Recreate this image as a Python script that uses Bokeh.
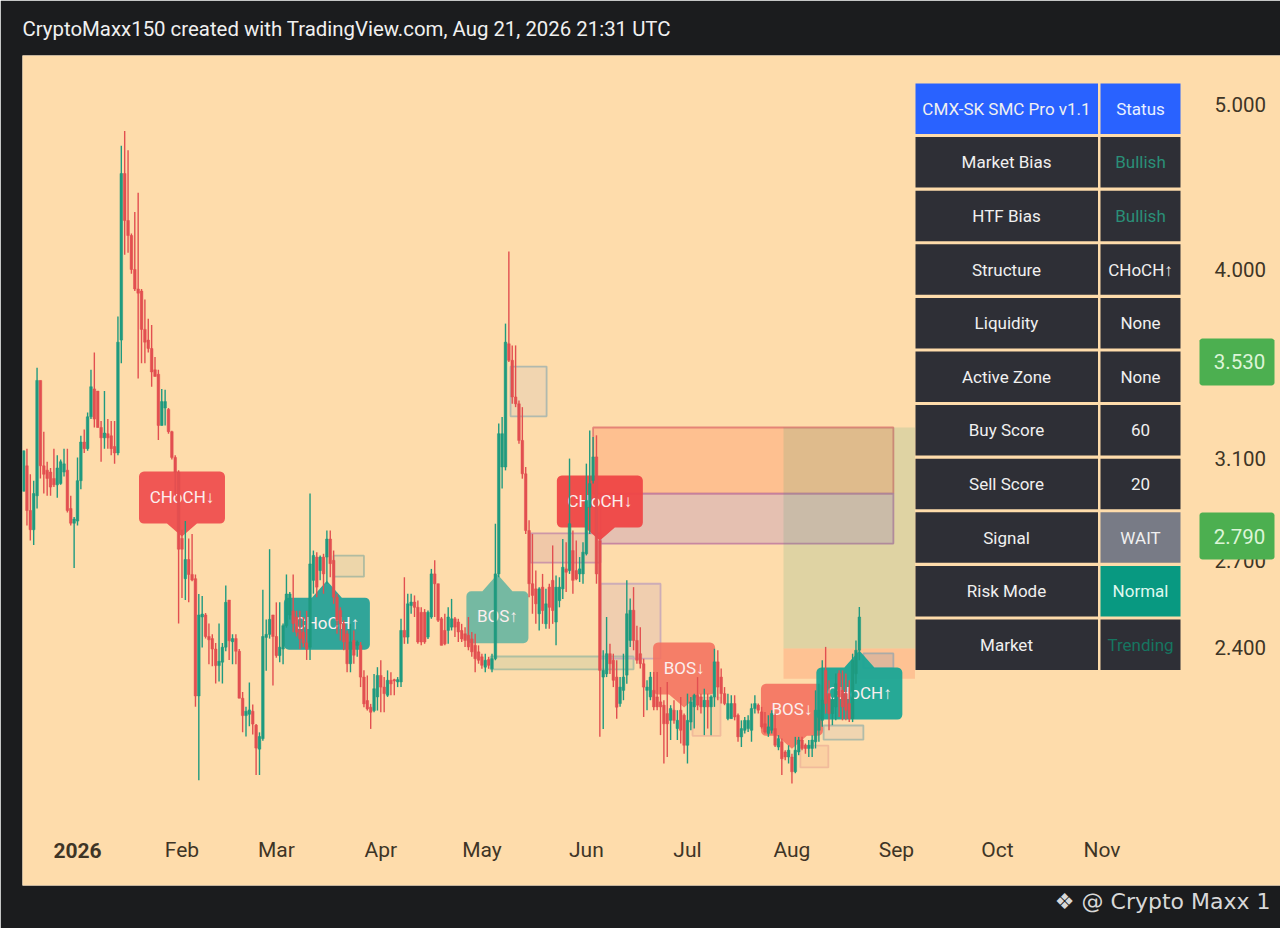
import math
from bokeh.plotting import figure
from bokeh.models import Range1d, FixedTicker, PrintfTickFormatter, Label, Title
from bokeh.core.properties import value
from bokeh.embed import file_html
from bokeh.resources import INLINE

# ---------- data ----------
first_day = -16   # days from 1 Jan 2026 of the first candle
opens = [2.964,3.068,2.888,2.814,2.946,3.443,3.068,3.050,3.042,3.016,
 2.990,2.995,3.042,3.050,2.896,2.839,2.847,3.007,3.168,3.140,
 3.278,3.404,3.394,3.231,3.186,3.204,3.195,3.149,3.122,3.636,
 4.554,4.274,4.188,4.000,3.896,3.885,3.689,3.636,3.595,3.493,
 3.472,3.240,3.317,3.311,3.213,3.103,3.042,2.781,2.634,2.703,
 2.649,2.634,2.248,2.501,2.508,2.436,2.429,2.395,2.342,2.353,
 2.401,2.559,2.419,2.429,2.388,2.241,2.189,2.193,2.202,2.161,
 2.092,2.122,2.433,2.443,2.508,2.436,2.374,2.395,2.472,2.508,
 2.522,2.501,2.457,2.450,2.415,2.401,2.628,2.712,2.663,2.712,
 2.712,2.779,2.700,2.569,2.523,2.478,2.445,2.348,2.423,2.407,
 2.407,2.306,2.234,2.214,2.204,2.245,2.311,2.275,2.250,2.296,
 2.298,2.291,2.291,2.456,2.434,2.540,2.552,2.534,2.517,2.517,
 2.434,2.501,2.651,2.616,2.495,2.456,2.456,2.467,2.495,2.484,
 2.456,2.445,2.440,2.428,2.407,2.386,2.370,2.337,2.361,2.332,
 2.364,2.651,3.063,3.063,3.618,3.538,3.367,3.336,3.175,3.035,
 2.811,2.616,2.598,2.512,2.604,2.478,2.604,2.628,2.484,2.557,
 2.598,2.669,2.663,2.736,2.663,2.651,2.651,2.724,2.901,3.008,
 3.105,2.773,2.306,2.316,2.380,2.359,2.306,2.225,2.265,2.312,
 2.423,2.524,2.423,2.380,2.348,2.265,2.245,2.265,2.245,2.230,
 2.220,2.195,2.175,2.205,2.151,2.205,2.190,2.103,2.170,2.215,
 2.250,2.245,2.215,2.235,2.215,2.245,2.354,2.306,2.255,2.180,
 2.180,2.225,2.190,2.127,2.146,2.151,2.146,2.210,2.220,2.200,
 2.165,2.137,2.146,2.151,2.098,2.113,2.084,2.070,2.070,2.029,
 2.084,2.118,2.103,2.094,2.094,2.113,2.146,2.175,2.327,2.255,
 2.195,2.215,2.317,2.265,2.255,2.225,2.180,2.317,2.391]
closes = [3.131,2.888,2.814,2.955,3.443,3.068,3.033,3.016,2.981,2.990,
 3.059,3.085,3.076,2.888,2.839,2.855,3.007,3.168,3.140,3.278,
 3.414,3.268,3.231,3.186,3.207,3.186,3.140,3.122,3.626,4.554,
 4.274,4.188,4.000,3.896,3.874,3.689,3.626,3.595,3.483,3.462,
 3.240,3.346,3.346,3.213,3.103,3.042,2.741,2.741,2.703,2.649,
 2.629,2.248,2.508,2.511,2.436,2.425,2.395,2.342,2.356,2.401,
 2.551,2.422,2.429,2.388,2.241,2.189,2.202,2.206,2.164,2.095,
 2.128,2.436,2.443,2.493,2.436,2.374,2.401,2.472,2.580,2.580,
 2.479,2.450,2.429,2.415,2.395,2.687,2.718,2.604,2.712,2.651,
 2.779,2.688,2.569,2.490,2.478,2.418,2.348,2.418,2.375,2.418,
 2.306,2.224,2.209,2.199,2.270,2.311,2.275,2.255,2.296,2.285,
 2.294,2.298,2.456,2.434,2.546,2.552,2.534,2.418,2.418,2.418,
 2.517,2.651,2.616,2.490,2.407,2.412,2.501,2.495,2.467,2.451,
 2.428,2.423,2.402,2.386,2.364,2.359,2.343,2.359,2.343,2.364,
 2.651,3.204,3.204,3.626,3.538,3.367,3.336,3.175,3.035,2.811,
 2.616,2.575,2.546,2.598,2.523,2.546,2.534,2.523,2.604,2.604,
 2.675,2.657,2.837,2.628,2.633,2.669,2.730,2.928,2.995,3.105,
 2.651,2.327,2.327,2.380,2.348,2.296,2.214,2.275,2.306,2.512,
 2.524,2.423,2.359,2.348,2.275,2.275,2.306,2.215,2.215,2.215,
 2.165,2.165,2.210,2.175,2.175,2.146,2.103,2.175,2.230,2.250,
 2.220,2.215,2.235,2.215,2.245,2.354,2.275,2.255,2.225,2.225,
 2.225,2.185,2.127,2.151,2.175,2.175,2.210,2.225,2.205,2.156,
 2.141,2.156,2.195,2.103,2.122,2.065,2.070,2.089,2.029,2.089,
 2.118,2.094,2.094,2.103,2.118,2.205,2.205,2.235,2.225,2.195,
 2.235,2.285,2.245,2.215,2.205,2.180,2.359,2.391,2.501]
highs = [3.131,3.140,3.033,3.007,3.503,3.443,3.213,3.085,3.059,3.140,
 3.112,3.094,3.140,3.140,2.946,2.863,3.103,3.195,3.222,3.297,
 3.493,3.575,3.394,3.259,3.394,3.268,3.259,3.259,3.754,4.728,
 4.823,4.700,4.200,4.323,4.437,3.896,3.841,3.743,3.711,3.554,
 3.493,3.404,3.400,3.317,3.217,3.112,3.050,2.814,2.847,2.781,
 2.798,2.649,2.580,2.573,2.515,2.479,2.443,2.415,2.479,2.415,
 2.610,2.559,2.443,2.443,2.395,2.260,2.215,2.289,2.222,2.164,
 2.140,2.595,2.493,2.741,2.508,2.551,2.551,2.479,2.649,2.587,
 2.649,2.522,2.522,2.501,2.522,2.955,2.736,2.730,2.718,2.724,
 2.811,2.811,2.736,2.581,2.534,2.490,2.456,2.478,2.456,2.423,
 2.418,2.327,2.311,2.224,2.316,2.337,2.359,2.306,2.327,2.321,
 2.301,2.306,2.495,2.639,2.581,2.581,2.575,2.557,2.534,2.528,
 2.523,2.669,2.700,2.616,2.501,2.512,2.534,2.563,2.501,2.495,
 2.478,2.467,2.501,2.451,2.445,2.407,2.380,2.380,2.370,2.380,
 2.837,3.248,3.277,3.718,4.099,3.610,3.610,3.351,3.321,3.063,
 2.850,2.798,2.663,2.604,2.651,2.598,2.616,2.755,2.645,2.639,
 2.779,2.767,3.098,2.811,2.773,2.712,2.767,3.077,3.218,3.190,
 3.197,2.773,2.391,2.501,2.412,2.380,2.359,2.306,2.380,2.628,
 2.564,2.604,2.472,2.467,2.364,2.296,2.322,2.322,2.322,2.275,
 2.235,2.291,2.220,2.235,2.205,2.245,2.195,2.255,2.245,2.255,
 2.306,2.255,2.270,2.255,2.250,2.396,2.391,2.333,2.275,2.255,
 2.250,2.250,2.195,2.175,2.185,2.190,2.225,2.250,2.225,2.215,
 2.200,2.190,2.205,2.195,2.132,2.122,2.089,2.103,2.079,2.127,
 2.127,2.127,2.108,2.118,2.132,2.265,2.285,2.359,2.402,2.296,
 2.245,2.317,2.327,2.327,2.317,2.296,2.380,2.423,2.535]
lows = [2.964,2.830,2.773,2.757,2.896,3.016,2.955,2.946,2.946,2.981,
 2.938,2.990,3.024,2.880,2.830,2.672,2.830,2.972,3.122,3.131,
 3.268,3.231,3.231,3.085,3.140,3.140,3.112,3.076,3.112,3.524,
 4.080,4.092,3.977,3.885,3.452,3.524,3.524,3.575,3.414,3.462,
 3.177,3.240,3.240,3.204,3.094,2.946,2.479,2.566,2.559,2.551,
 2.625,2.215,2.006,2.400,2.429,2.346,2.340,2.286,2.292,2.286,
 2.388,2.360,2.346,2.346,2.241,2.140,2.128,2.158,2.134,2.020,
 2.020,2.116,2.326,2.429,2.280,2.367,2.353,2.346,2.465,2.493,
 2.450,2.436,2.395,2.401,2.360,2.360,2.581,2.569,2.628,2.581,
 2.616,2.639,2.546,2.445,2.423,2.391,2.321,2.321,2.348,2.370,
 2.275,2.214,2.204,2.150,2.199,2.204,2.199,2.199,2.245,2.250,
 2.250,2.275,2.275,2.412,2.412,2.512,2.501,2.412,2.407,2.412,
 2.428,2.495,2.501,2.484,2.407,2.407,2.412,2.456,2.434,2.418,
 2.418,2.402,2.391,2.370,2.321,2.348,2.332,2.321,2.332,2.321,
 2.359,2.639,2.975,3.049,3.530,3.336,3.321,3.161,3.015,2.798,
 2.569,2.512,2.478,2.456,2.478,2.462,2.462,2.478,2.407,2.534,
 2.563,2.587,2.651,2.581,2.628,2.622,2.616,2.718,2.798,2.995,
 2.616,2.127,2.150,2.306,2.316,2.275,2.180,2.215,2.235,2.285,
 2.402,2.391,2.348,2.333,2.185,2.205,2.235,2.205,2.205,2.132,
 2.052,2.070,2.118,2.165,2.118,2.108,2.079,2.052,2.146,2.151,
 2.205,2.195,2.132,2.151,2.132,2.215,2.235,2.225,2.220,2.175,
 2.180,2.175,2.113,2.098,2.137,2.141,2.113,2.195,2.195,2.151,
 2.137,2.127,2.137,2.098,2.089,2.020,2.061,2.052,1.997,2.025,
 2.075,2.089,2.079,2.070,2.070,2.094,2.113,2.156,2.195,2.146,
 2.161,2.175,2.185,2.175,2.175,2.170,2.170,2.285,2.359]

month_ticks = [31, 59, 90, 120, 151, 181, 212, 243, 273, 304]
month_names = ["Feb", "Mar", "Apr", "May", "Jun", "Jul", "Aug", "Sep", "Oct", "Nov"]
year_tick = 0
year_name = "2026"
price_ticks = [5.0, 4.0, 3.1, 2.7, 2.4]

zone_start = [153, 155.2, 209.5, 209.5, 76, 128.5, 122.6, 134.4, 155.2, 182.5, 214.5, 221.4, 233.2]
zone_end = [242.1, 242.1, 248.5, 248.5, 85, 139.2, 165, 155.2, 173, 190.8, 222.8, 233.2, 242.1]
zone_top = [3.231, 2.955, 3.231, 2.397, 2.717, 3.508, 2.371, 2.800, 2.616, 2.243, 2.102, 2.160, 2.381]
zone_bottom = [2.955, 2.762, 2.397, 2.301, 2.641, 3.280, 2.330, 2.692, 2.364, 2.130, 2.041, 2.119, 2.333]
zone_fill = ["#ff8a5c", "#b48ac0", "#2e9e78", "#ff9a70", "#a8bfa8", "#c0b8c8", "#8cb89c", "#c88aa0",
             "#c0a0c0", "#f2a684", "#f2a684", "#b8b8c8", "#9aa0b0"]
zone_alpha = [0.33, 0.33, 0.15, 0.40, 0.20, 0.20, 0.20, 0.25, 0.22, 0.20, 0.20, 0.20, 0.30]
zone_line = ["#e27c72", "#c27fa0", None, None, "#a8b8a0", "#a9b6ae", "#a7bca0", "#c890a6",
             "#c8a8b8", "#efb89a", "#efb89a", "#a8b8a8", "#a4a8a8"]

sig_text = ["CHoCH↓", "CHoCH↑", "BOS↑", "CHoCH↓", "BOS↓", "BOS↓", "CHoCH↑"]
sig_day = [31, 74, 124.6, 155, 180, 212, 232]
sig_price = [2.788, 2.627, 2.650, 2.773, 2.213, 2.093, 2.390]  # prices at the pointer tip
sig_dir = [-1, 1, 1, -1, -1, -1, 1]                             # -1: label above tip, 1: below
sig_fill = ["#ef4f4f", "#1f9f97", "#5db3a0", "#ef4646", "#f4715f", "#f4715f", "#1aa595"]
sig_alpha = [0.95, 0.92, 0.85, 0.95, 0.88, 0.90, 0.95]

table_left = ["CMX-SK SMC Pro v1.1", "Market Bias", "HTF Bias", "Structure", "Liquidity", "Active Zone",
              "Buy Score", "Sell Score", "Signal", "Risk Mode", "Market"]
table_right = ["Status", "Bullish", "Bullish", "CHoCH↑", "None", "None", "60", "20", "WAIT", "Normal", "Trending"]
right_bg = ["#2962ff"] + ["#2e2f36"] * 7 + ["#787b86", "#089981", "#2e2f36"]
left_bg = ["#2962ff"] + ["#2e2f36"] * 10
right_fg = ["#e8f0ff", "#2a8f78", "#2a8f78", "#f0f0f0", "#f0f0f0", "#f0f0f0", "#f0f0f0", "#f0f0f0", "#f0f0f0",
            "#dff8ef", "#167560"]

tag_prices = [3.530, 2.790]
tag_text = ["3.530", "2.790"]

title_text = "CryptoMaxx150 created with TradingView.com, Aug 21, 2026 21:31 UTC"
credit_text = "❖ @ Crypto Maxx 1"

# ---------- scales: page pixels <-> chart values ----------
def day(px): return (px - 77) / 3.37
def price(py): return 4 * math.exp((269 - py) / 740)
def py_of(v): return 269 - 740 * math.log(v / 4)
def px_of(d): return 77 + 3.37 * d

FONT = "Roboto"
PEACH = "#fedcab"
DARK = "#1b1c1e"

p = figure(width=1280, height=928, output_backend="svg", toolbar_location=None,
           x_range=Range1d(day(22), day(1280)), y_range=Range1d(price(885), price(55)),
           y_axis_type="log", y_axis_location="right",
           min_border_left=22, min_border_right=0, min_border_top=55, min_border_bottom=43,
           background_fill_color=PEACH, border_fill_color=DARK, outline_line_color=None,
           title=title_text)
p.grid.visible = False
p.title.text_font = FONT
p.title.text_font_size = "20.4px"
p.title.text_font_style = "normal"
p.title.text_color = "#f0f0f0"
p.title.align = "left"
p.title.standoff = 29

xa = p.xaxis[0]
xa.ticker = FixedTicker(ticks=month_ticks)
xa.major_label_overrides = {t: n for t, n in zip(month_ticks, month_names)}
xa.major_tick_line_color = None
xa.minor_tick_line_color = None
xa.axis_line_color = None
xa.major_tick_out = 0
xa.major_label_standoff = -48
xa.major_label_text_font = FONT
xa.major_label_text_font_size = "21px"
xa.major_label_text_color = "#3e3526"

ya = p.yaxis[0]
ya.ticker = FixedTicker(ticks=price_ticks)
ya.formatter = PrintfTickFormatter(format="%.3f")
ya.major_tick_line_color = None
ya.minor_tick_line_color = None
ya.axis_line_color = None
ya.major_tick_out = 0
ya.major_label_standoff = -66
ya.major_label_text_font = FONT
ya.major_label_text_font_size = "20.5px"
ya.major_label_text_color = "#3e3526"

# zones
for i in range(len(zone_start)):
    p.quad(left=[zone_start[i]], right=[zone_end[i]], top=[zone_top[i]], bottom=[zone_bottom[i]],
           fill_color=zone_fill[i], fill_alpha=zone_alpha[i], line_color=zone_line[i], line_width=1.8,
           line_alpha=0.9)

# rounded polygons, built in page pixels and placed through the chart's scales
def rounded(l, t, r, b, rad=5, tip=None):
    pts = []
    def arc(cx, cy, a0):
        for k in range(5):
            a = math.radians(a0 + k * 22.5)
            pts.append((cx + rad * math.cos(a), cy + rad * math.sin(a)))
    arc(l + rad, t + rad, 180)
    if tip is not None and tip[1] < t:
        pts.extend([(tip[0] - 15, t), (tip[0], tip[1]), (tip[0] + 15, t)])
    arc(r - rad, t + rad, 270)
    arc(r - rad, b - rad, 0)
    if tip is not None and tip[1] > b:
        pts.extend([(tip[0] + 15, b), (tip[0], tip[1]), (tip[0] - 15, b)])
    arc(l + rad, b - rad, 90)
    return [day(a) for a, _ in pts], [price(c) for _, c in pts]

for txt, d, pr, dr, fc, al in zip(sig_text, sig_day, sig_price, sig_dir, sig_fill, sig_alpha):
    tx, ty = px_of(d), py_of(pr)
    half = 43 if txt.startswith("CH") else 31
    if dr < 0:
        t, b = ty - 65, ty - 13
    else:
        t, b = ty + 17, ty + 69
    xs, ys = rounded(tx - half, t, tx + half, b, tip=(tx, ty))
    p.patch(xs, ys, fill_color=fc, fill_alpha=al, line_color=None)
    p.text(x=[day(tx)], y=[price((t + b) / 2 - 1)], text=[txt], text_align="center", text_baseline="middle",
           text_font=value(FONT), text_font_size="17px", text_color="#fbeeee")

# candles run over the labels
UP = "#1f9a7f"
DOWN = "#e24f50"
days = [first_day + i for i in range(len(opens))]
cols = [UP if c >= o else DOWN for o, c in zip(opens, closes)]
p.segment(x0=days, x1=days, y0=lows, y1=highs, line_color=cols, line_width=1.4)
p.vbar(x=days, width=0.78, top=[max(o, c) for o, c in zip(opens, closes)],
       bottom=[min(o, c) for o, c in zip(opens, closes)], fill_color=cols, line_color=cols, line_width=0.5)

# status table
ROW0, PITCH = 83, 53.6
for i, (lt, rt) in enumerate(zip(table_left, table_right)):
    t, b = ROW0 + i * PITCH, ROW0 + i * PITCH + 50.5
    p.quad(left=[day(915)], right=[day(1097.5)], top=[price(t)], bottom=[price(b)],
           fill_color=left_bg[i], line_color=None)
    p.quad(left=[day(1100)], right=[day(1180)], top=[price(t)], bottom=[price(b)],
           fill_color=right_bg[i], line_color=None)
    p.text(x=[day(1006)], y=[price((t + b) / 2)], text=[lt], text_align="center", text_baseline="middle",
           text_font=value(FONT), text_font_size="17px", text_color="#f0f0f0")
    p.text(x=[day(1140)], y=[price((t + b) / 2)], text=[rt], text_align="center", text_baseline="middle",
           text_font=value(FONT), text_font_size="17px", text_color=right_fg[i])

# last-price tags sit over the axis labels
for v, txt in zip(tag_prices, tag_text):
    cy = py_of(v)
    xs, ys = rounded(1199, cy - 23.5, 1274, cy + 23.5, rad=3)
    p.patch(xs, ys, fill_color="#4caf50", line_color=None, level="overlay")
    p.text(x=[day(1239)], y=[v], text=[txt], text_align="center", text_baseline="middle", level="overlay",
           text_font=value(FONT), text_font_size="20.5px", text_color="#dcf5d8")

p.add_layout(Label(x=year_tick, x_units="data", y=price(850), y_units="data", text=year_name,
                   text_align="center", text_baseline="middle", text_font=FONT, text_font_size="21px",
                   text_font_style="bold", text_color="#3e3526"))
p.add_layout(Title(text=credit_text, align="right", offset=10, standoff=2, text_font="DejaVu Sans",
                   text_font_size="22px", text_font_style="normal", text_color="#d8d8d8"), "below")

open("out.html", "w").write(file_html(p, INLINE))
